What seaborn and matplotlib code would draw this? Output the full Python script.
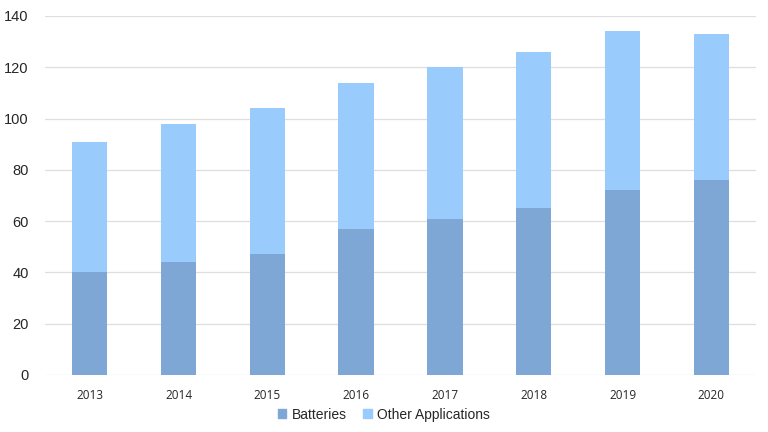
import seaborn as sns
import matplotlib.pyplot as plt
import pandas as pd
import numpy as np
from matplotlib.patches import Patch

years = ["2013", "2014", "2015", "2016", "2017", "2018", "2019", "2020"]
batteries = [40, 44, 47, 57, 61, 65, 72, 76]
other_apps = [51, 54, 57, 57, 59, 61, 62, 57]

c_batt = "#7fa7d5"
c_other = "#99cbfd"

df = pd.DataFrame({"year": years, "Batteries": batteries, "Other Applications": other_apps})
df["total"] = df["Batteries"] + df["Other Applications"]

sns.set_style("white")
plt.rcParams["font.family"] = ["Liberation Sans", "DejaVu Sans"]

fig = plt.figure(figsize=(7.68, 4.32), dpi=100)
ax = fig.add_axes([0.059, 0.132, 0.925, 0.831])

# stacked: draw totals first, batteries on top of them
sns.barplot(data=df, x="year", y="total", color=c_other, width=0.4, saturation=1,
            linewidth=0, ax=ax, zorder=3)
sns.barplot(data=df, x="year", y="Batteries", color=c_batt, width=0.4, saturation=1,
            linewidth=0, ax=ax, zorder=3)

ax.set_ylim(0, 140)
ax.set_yticks(np.arange(0, 141, 20))
ax.set_xlim(-0.5, len(years) - 0.5)
ax.grid(axis="y", color="#dedede", linewidth=0.9, zorder=0)
ax.set_axisbelow(True)
for s in ax.spines.values():
    s.set_visible(False)
ax.set_xlabel("")
ax.set_ylabel("")
ax.tick_params(axis="y", length=0, labelsize=10.5, labelcolor="#262626", pad=12)
ax.tick_params(axis="x", length=0, labelsize=8.5, labelcolor="#262626", pad=10)
for lab in ax.get_xticklabels():
    lab.set_family(["Open Sans", "DejaVu Sans"])

handles = [Patch(color=c_batt, label="Batteries"), Patch(color=c_other, label="Other Applications")]
fig.legend(handles=handles, loc="center", bbox_to_anchor=(0.5, 0.04), ncol=2, frameon=False,
           fontsize=10, handlelength=0.6, handleheight=0.6, handletextpad=0.4, columnspacing=1.2)

fig.savefig("out.png", dpi=100)
